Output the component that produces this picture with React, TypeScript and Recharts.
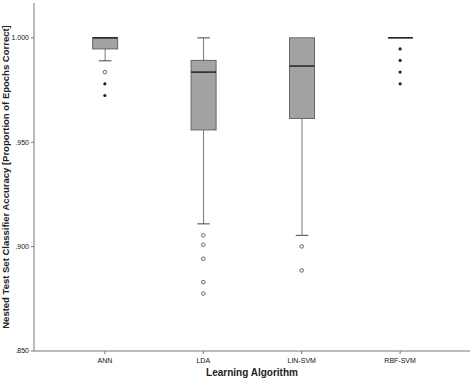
import React from "react"
import {
  ComposedChart,
  Bar,
  Scatter,
  XAxis,
  YAxis
} from "recharts"

const ALGORITHMS = ["ANN", "LDA", "LIN-SVM", "RBF-SVM"]
const WHISKER_LOW = [0.989, 0.9109, 0.9054, 1.0]
const Q1 = [0.9947, 0.9559, 0.9614, 1.0]
const MEDIAN = [1.0, 0.9836, 0.9865, 1.0]
const Q3 = [1.0, 0.9892, 1.0, 1.0]
const WHISKER_HIGH = [1.0, 1.0, 1.0, 1.0]
const OUTLIERS = [
  [0.9836, 0.978, 0.9724],
  [0.9054, 0.9009, 0.8942, 0.883, 0.8775],
  [0.9001, 0.8886],
  [0.9947, 0.9892, 0.9836, 0.978]
]
// extreme values are drawn as filled dots, the rest as open rings
const EXTREME = [
  [false, true, true],
  [false, false, false, false, false],
  [false, false],
  [true, true, true, true]
]
const Y_TICKS = [0.85, 0.9, 0.95, 1.0]

const boxes = ALGORITHMS.map((name, i) => ({
  x: i,
  name,
  range: [WHISKER_LOW[i], WHISKER_HIGH[i]],
  q1: Q1[i],
  median: MEDIAN[i],
  q3: Q3[i],
  lo: WHISKER_LOW[i],
  hi: WHISKER_HIGH[i]
}))

const outliers = OUTLIERS.flatMap((vals, i) =>
  vals.map((v, j) => ({ x: i, y: v, extreme: EXTREME[i][j] }))
)

const FONT = "'Liberation Sans', Arial, sans-serif"

function BoxShape(props: any) {
  const { x, y, width, height, payload } = props
  const { lo, hi, q1, median, q3 } = payload
  const cx = x + width / 2
  if (hi === lo) {
    return (
      <line x1={x} x2={x + width} y1={y} y2={y} stroke="#111" strokeWidth={1.5} />
    )
  }
  const k = height / (hi - lo)
  const py = (v: number) => y + (hi - v) * k
  const capW = width / 2
  return (
    <g>
      <line x1={cx} x2={cx} y1={py(hi)} y2={py(q3)} stroke="#777" />
      <line x1={cx} x2={cx} y1={py(q1)} y2={py(lo)} stroke="#777" />
      {hi > q3 && (
        <line x1={cx - capW / 2} x2={cx + capW / 2} y1={py(hi)} y2={py(hi)} stroke="#444" />
      )}
      {lo < q1 && (
        <line x1={cx - capW / 2} x2={cx + capW / 2} y1={py(lo)} y2={py(lo)} stroke="#444" />
      )}
      <rect
        x={x}
        y={py(q3)}
        width={width}
        height={py(q1) - py(q3)}
        fill="#a3a3a3"
        stroke="#666"
      />
      <line x1={x} x2={x + width} y1={py(median)} y2={py(median)} stroke="#222" strokeWidth={1.5} />
    </g>
  )
}

function OutlierShape(props: any) {
  const { cx, cy, payload } = props
  if (payload.extreme) {
    return <circle cx={cx} cy={cy} r={1.6} fill="#222" />
  }
  return <circle cx={cx} cy={cy} r={1.8} fill="#fff" stroke="#555" strokeWidth={0.9} />
}

export default function App() {
  return (
    <div style={{ position: "absolute", left: 0, top: 0, background: "#fff" }}>
      <ComposedChart
        width={474}
        height={380}
        data={boxes}
        margin={{ top: 3, right: 4, left: 0, bottom: 0 }}
      >
        <XAxis
          dataKey="x"
          type="number"
          domain={[-0.72, 3.71]}
          ticks={[0, 1, 2, 3]}
          tickFormatter={(i: number) => ALGORITHMS[i]}
          allowDataOverflow
          height={29}
          stroke="#777"
          tickSize={3}
          tickMargin={4}
          tick={{ fontSize: 7, fill: "#111", fontFamily: FONT }}
          label={{
            value: "Learning Algorithm",
            position: "insideBottom",
            offset: 4,
            style: { fontSize: 10, fontWeight: "bold", fill: "#222", fontFamily: FONT }
          }}
        />
        <XAxis
          xAxisId="top"
          dataKey="x"
          type="number"
          domain={[-0.72, 3.71]}
          orientation="top"
          height={0}
          tick={false}
          tickLine={false}
          stroke="#888"
        />
        <YAxis
          type="number"
          domain={[0.85, 1.0167]}
          ticks={Y_TICKS}
          allowDataOverflow
          width={34}
          stroke="#777"
          tickSize={3}
          tickFormatter={(v: number) => v.toFixed(3).replace(/^0/, "")}
          tick={{ fontSize: 7, fill: "#111", fontFamily: FONT }}
          label={{
            value: "Nested Test Set Classifier Accuracy [Proportion of Epochs Correct]",
            angle: -90,
            position: "insideLeft",
            offset: 6,
            style: {
              textAnchor: "middle",
              fontSize: 9.5,
              fontWeight: "bold",
              fill: "#222",
              fontFamily: FONT
            }
          }}
        />
        <YAxis
          yAxisId="right"
          orientation="right"
          domain={[0.85, 1.0167]}
          width={0}
          tick={false}
          tickLine={false}
          stroke="#888"
        />
        <Bar
          dataKey="range"
          barSize={25}
          shape={BoxShape}
          isAnimationActive={false}
        />
        <Scatter
          data={outliers}
          dataKey="y"
          shape={OutlierShape}
          isAnimationActive={false}
        />
      </ComposedChart>
    </div>
  )
}
